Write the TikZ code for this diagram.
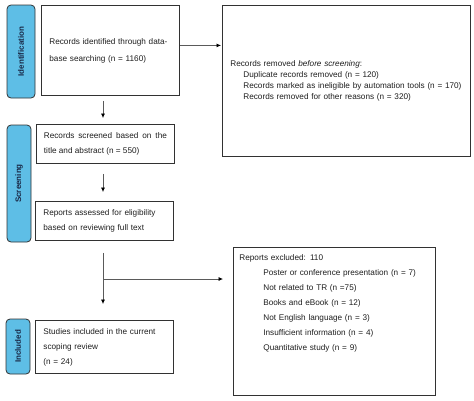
\documentclass[tikz,border=0pt]{standalone}
\usepackage{fontspec}
\setmainfont{Liberation Sans}
\usetikzlibrary{arrows.meta}
\tikzset{>=latex}
\definecolor{tabblue}{RGB}{94,190,230}
\definecolor{tabtext}{RGB}{25,40,70}
\definecolor{boxgray}{RGB}{50,50,50}
\definecolor{linegray}{RGB}{90,90,90}
\definecolor{textgray}{RGB}{30,30,30}
\tikzstyle{tab}=[draw=boxgray,line width=0.8pt,fill=tabblue,rounded corners=4pt,rotate=90,inner sep=0pt,font=\fontsize{8}{10}\selectfont\bfseries,text=tabtext]
\tikzstyle{box}=[draw=boxgray,line width=0.8pt,anchor=north west,inner xsep=8pt,inner ysep=0pt,align=left,font=\fontsize{8.2}{15}\selectfont,text=textgray]
\tikzstyle{arrow}=[draw=linegray,line width=0.7pt,-{Latex[length=4.5pt,width=4pt,color=black]}]

\begin{document}
\begin{tikzpicture}[x=1pt,y=-1pt]
    \useasboundingbox (0,0) rectangle (474,400);

    % phase tabs
    \node[tab,minimum width=93pt,minimum height=28pt] (ident) at (21,51.5) {Identification};
    \node[tab,minimum width=117pt,minimum height=24pt] (screen) at (19,183.5) {Screening};
    \node[tab,minimum width=55pt,minimum height=24pt] (incl) at (18,346.5) {Included};

    % main column
    \node[box,font=\fontsize{8.2}{17}\selectfont,text width=122pt,minimum width=138pt,minimum height=90pt] (idrec) at (41,5)
        {Records identified through data-\\base searching (n = 1160)};
    \node[box,align=justify,inner xsep=7.5pt,text width=123pt,minimum width=138pt,minimum height=39pt] (screened) at (36,124)
        {Records screened based on the \mbox{title} and abstract (n = 550)};
    \node[box,text width=122pt,minimum width=138pt,minimum height=39pt] (assessed) at (35,201)
        {Reports assessed for eligibility\\based on reviewing full text};
    \node[box,text width=122pt,minimum width=138pt,minimum height=53pt] (included) at (35,320)
        {Studies included in the current\\scoping review\\(n = 24)};

    % side boxes
    \node[box,font=\fontsize{8.2}{11}\selectfont,text width=232pt,minimum width=248pt,minimum height=151pt] (removed) at (222,5)
        {Records removed \textit{before screening}:\\
         \hspace*{13pt}Duplicate records removed (n = 120)\\
         \hspace*{13pt}Records marked as ineligible by automation tools (n = 170)\\
         \hspace*{13pt}Records removed for other reasons (n = 320)};
    \node[box,inner xsep=6pt,text width=190pt,minimum width=202pt,minimum height=148pt] (excluded) at (233,247)
        {Reports excluded: 110\\
         \hspace*{24pt}Poster or conference presentation (n = 7)\\
         \hspace*{24pt}Not related to TR (n =75)\\
         \hspace*{24pt}Books and eBook (n = 12)\\
         \hspace*{24pt}Not English language (n = 3)\\
         \hspace*{24pt}Insufficient information (n = 4)\\
         \hspace*{24pt}Quantitative study (n = 9)\\[19pt]\strut};

    % connectors
    \coordinate (spine) at (103,0);
    \coordinate (branch) at (103,279);
    \draw[arrow,shorten >=1pt] ([yshift=5pt]idrec.east) -- ([yshift=5pt]idrec.east -| removed.west);
    \draw[arrow,shorten <=5pt,shorten >=6pt] (idrec.south -| spine) -- (screened.north -| spine);
    \draw[arrow,shorten <=10pt,shorten >=9pt] (screened.south -| spine) -- (assessed.north -| spine);
    \draw[arrow,shorten <=12pt,shorten >=16pt] (assessed.south -| spine) -- (included.north -| spine);
    \draw[arrow,shorten >=10pt] (branch) -- (branch -| excluded.west);
\end{tikzpicture}
\end{document}
